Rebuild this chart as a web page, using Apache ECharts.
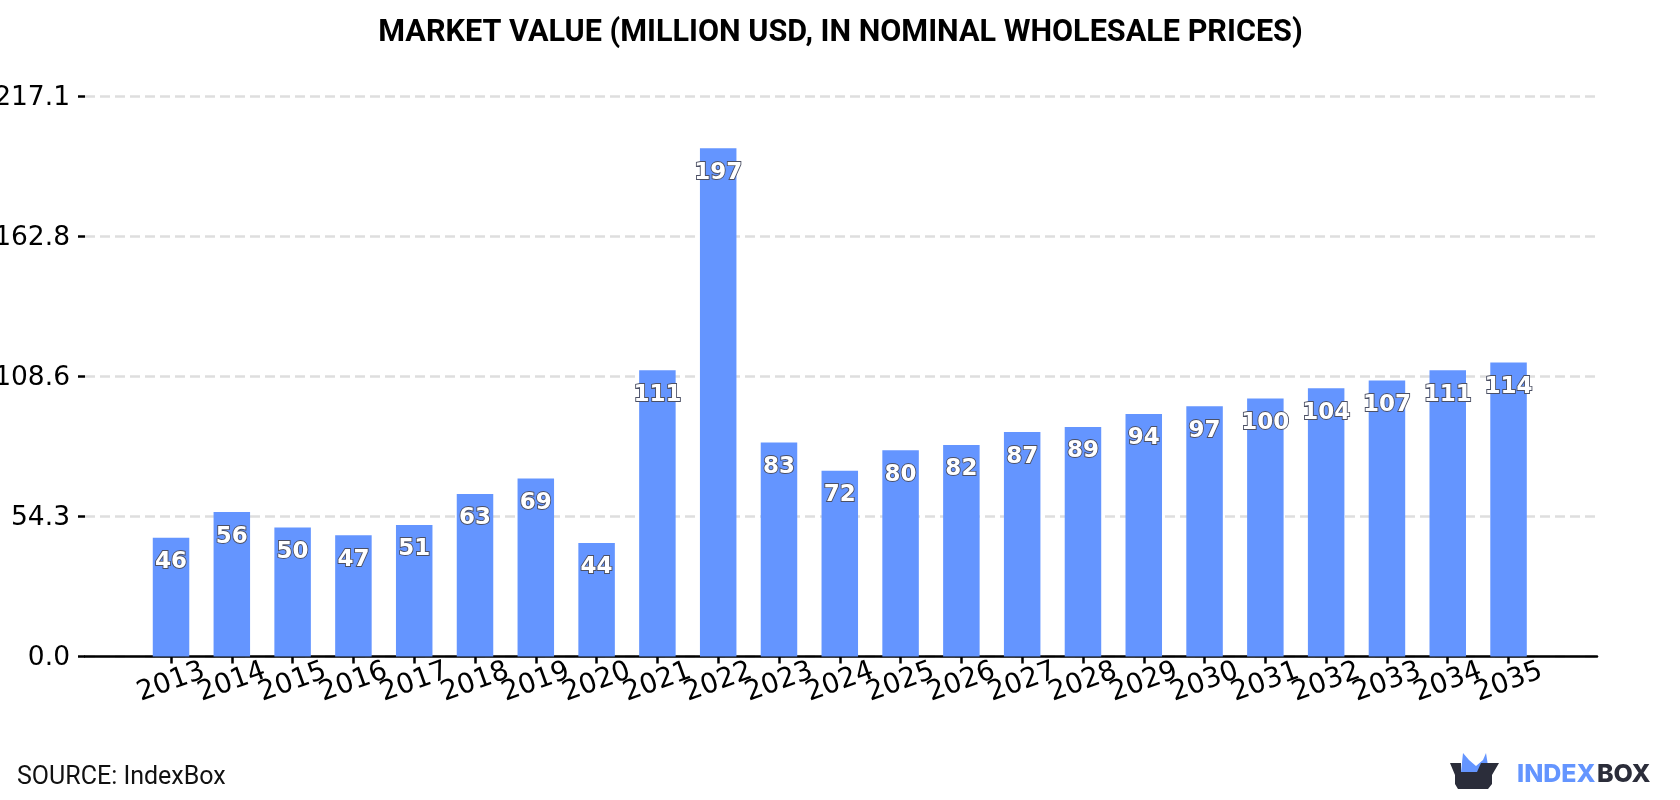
<!DOCTYPE html>
<html>
<head>
<meta charset="utf-8">
<style>html,body{margin:0;padding:0;background:#fff}#chart{width:1680px;height:800px}</style>
<script src="https://cdn.jsdelivr.net/npm/echarts@6/dist/echarts.min.js"></script>
</head>
<body>
<div id="chart"></div>
<script>
// Market value by year, million USD
const years = [2013,2014,2015,2016,2017,2018,2019,2020,2021,2022,2023,2024,2025,2026,2027,2028,2029,2030,2031,2032,2033,2034,2035];
const values = [46,56,50,47,51,63,69,44,111,197,83,72,80,82,87,89,94,97,100,104,107,111,114];
const yTicks = [0,54.3,108.6,162.8,217.1];

const chart = echarts.init(document.getElementById('chart'), null, {renderer:'canvas'});
const AXIS_FONT = 'DejaVu Sans';
const BLUE = '#6495ff';
const DARK = '#2b2d3a';
const X_MIN = 2011.585, X_MAX = 2036.455;

chart.setOption({
  animation: false,
  backgroundColor: '#fff',
  title: {
    text: 'MARKET VALUE (MILLION USD, IN NOMINAL WHOLESALE PRICES)',
    left: 835.5, top: 13, textAlign: 'center',
    textStyle: {fontFamily:'Roboto', fontWeight:'bold', fontSize:30.6, color:'#000'}
  },
  grid: {left:85, right:83, top:96.5, bottom:143.5, outerBoundsMode:'none'},
  xAxis: {
    type:'value', min:X_MIN, max:X_MAX,
    splitLine:{show:false},
    axisLine:{show:true, onZero:true, lineStyle:{color:'#000', width:2.5}},
    axisTick:{show:true, customValues:years, length:7, lineStyle:{color:'#000', width:2.5}},
    // blank end labels keep every year visible when neighbours overlap
    axisLabel:{
      show:true, customValues:[X_MIN, ...years, X_MAX], rotate:20, margin:11,
      align:'center', verticalAlign:'top', padding:[0,10,0,0],
      hideOverlap:false,
      fontFamily:AXIS_FONT, fontSize:27.5, color:'#000',
      formatter:(v)=>Number.isInteger(v) ? String(v) : ''
    }
  },
  yAxis: {
    type:'value', min:0, max:217.1,
    axisLine:{show:false},
    axisTick:{show:true, customValues:yTicks, length:7, lineStyle:{color:'#000', width:2.5}},
    axisLabel:{
      show:true, customValues:yTicks, margin:15,
      verticalAlign:'top', lineHeight:4,
      showMinLabel:true, showMaxLabel:true,
      fontFamily:AXIS_FONT, fontSize:26.5, color:'#000',
      formatter:(v)=>v.toFixed(1)
    },
    splitLine:{show:true, lineStyle:{color:'#dedede', width:2.5, type:[10,5]}}
  },
  series: [{
    type:'bar', barWidth:36.5, z:3,
    itemStyle:{color:BLUE},
    label:{
      show:true, position:'insideTop', distance:13,
      fontFamily:AXIS_FONT, fontWeight:'bold', fontSize:23, color:'#fff',
      textBorderColor:'#4c5064', textBorderWidth:1.8,
      formatter:(p)=>String(p.value[1])
    },
    data: years.map((y,i)=>[y, values[i]])
  }],
  graphic: [
    {type:'text', left:17, top:765, style:{text:'SOURCE: IndexBox', font:'25px Roboto', fill:'#111'}},
    // brand mark: open box with a blue crown
    {type:'polygon', shape:{points:[[1461,772],[1463,753],[1469,760],[1476,766],[1483,760],[1486,753],[1489,772],[1478,772],[1476,778],[1461,778]]}, style:{fill:BLUE}, z:5},
    {type:'polygon', shape:{points:[[1450,763],[1461,763],[1461,772],[1477,772],[1481,763],[1499,763],[1492,775],[1492,784],[1488,789],[1458,789],[1455,784],[1455,775]]}, style:{fill:DARK}, z:6},
    {type:'text', left:1517, top:762, style:{text:'INDEX', font:'800 25px Inter', fill:BLUE}},
    {type:'text', left:1597, top:762, style:{text:'BOX', font:'800 25px Inter', fill:DARK}}
  ]
});
</script>
</body>
</html>
